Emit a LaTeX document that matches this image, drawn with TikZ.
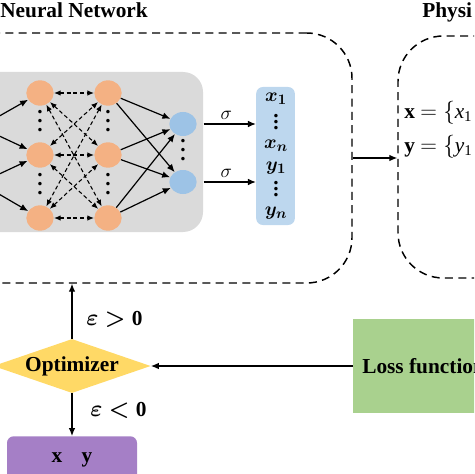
\documentclass[tikz,border=0pt]{standalone}
\usepackage{fontspec}
\setmainfont{Liberation Serif}
\usepackage{bm}
\usetikzlibrary{arrows.meta,shapes.geometric}

\definecolor{nnGray}{HTML}{DADADA}
\definecolor{nnOrange}{HTML}{F4B183}
\definecolor{nnBlue}{HTML}{9DC3E6}
\definecolor{nnLight}{HTML}{BDD7EE}
\definecolor{nnYellow}{HTML}{FFD966}
\definecolor{nnGreen}{HTML}{A9D18E}
\definecolor{nnPurple}{HTML}{A57FC6}

% three stacked bold dots
\newcommand{\nndots}[1]{\vbox{\baselineskip=#1\lineskiplimit=0pt\hbox{.}\hbox{.}\hbox{.}}}

\begin{document}
\begin{tikzpicture}[x=0.75pt, y=-0.75pt,
    hid/.style={ellipse, fill=nnOrange, minimum width=20.5pt, minimum height=19pt, inner sep=0pt},
    outn/.style={ellipse, fill=nnBlue, minimum width=20.5pt, minimum height=18pt, inner sep=0pt},
    dashbox/.style={draw, dash pattern=on 6pt off 4pt, line width=1.1pt, rounded corners=34pt},
    txt/.style={font=\fontsize{16}{19}\selectfont},
    big/.style={font=\fontsize{16}{19}\selectfont\bfseries},
    mth/.style={font=\fontsize{15.5}{18}\selectfont, inner sep=0pt},
    vd/.style={font=\fontsize{16}{19}\selectfont\bfseries, inner sep=0pt},
    arr/.style={line width=0.9pt, -{Latex[length=6pt,width=5pt]}},
    darr/.style={line width=0.8pt, dash pattern=on 3pt off 2pt, {Latex[length=5pt,width=4pt]}-{Latex[length=5pt,width=4pt]}}]
  \useasboundingbox (0,0) rectangle (474,474);
  \clip (0,0) rectangle (474,474);

  % dashed frames and titles
  \node[dashbox, minimum width=354pt, minimum height=187.5pt] (lbox) at (116,158) {};
  \node[dashbox, minimum width=226.5pt, minimum height=181.5pt] (rbox) at (549,157) {};
  \node[big, anchor=base west, inner sep=0pt] (nntitle) at (0,18) {Neural Network};
  \node[big, anchor=base west, inner sep=0pt] (phtitle) at (422,18) {Physi};

  % network
  \fill[nnGray, rounded corners=15pt] (-40,72) rectangle (203,232);
  \foreach \i/\y in {1/93,2/155,3/218} {
    \node[hid] (a\i) at (40,\y) {};
    \node[hid] (b\i) at (108,\y) {};
  }
  \node[outn] (c1) at (183,124) {};
  \node[outn] (c2) at (183,182) {};
  \foreach \x/\n in {40/a,108/b} {
    \node[vd] (dots\n u) at (\x,121) {\nndots{6.5pt}};
    \node[vd] (dots\n d) at (\x,184) {\nndots{6.5pt}};
  }
  \node[vd] (dotsc) at (183,150) {\nndots{6.5pt}};

  \coordinate (inA) at (-20,127);
  \coordinate (inB) at (-20,183);
  \foreach \j in {1,2} \draw[arr] (inA) -- (a\j);
  \foreach \j in {2,3} \draw[arr] (inB) -- (a\j);
  \foreach \i in {1,2,3} {
    \foreach \j in {1,2,3} {\draw[darr] (a\i) -- (b\j);}
  }
  \foreach \i in {1,2,3} {
    \foreach \j in {1,2} {\draw[arr] (b\i) -- (c\j);}
  }

  % outputs
  \node[fill=nnLight, rounded corners=5pt, minimum width=29pt, minimum height=103.5pt] (outbox) at (275.5,156) {};
  \draw[arr, shorten <=5pt] (c1.east) -- (c1.east -| outbox.west)
    node[midway, above, mth, inner sep=3pt] {$\sigma$};
  \draw[arr, shorten <=5pt] (c2.east) -- (c2.east -| outbox.west)
    node[midway, above, mth, inner sep=3pt] {$\sigma$};
  \node[mth] (ox1) at (276,99) {$\bm{x}_{\bm{1}}$};
  \node[vd] (dotsx) at (276,122) {\nndots{4.5pt}};
  \node[mth] (oxn) at (276,146) {$\bm{x}_{\bm{n}}$};
  \node[mth] (oy1) at (276,168) {$\bm{y}_{\bm{1}}$};
  \node[vd] (dotsy) at (276,189) {\nndots{4.5pt}};
  \node[mth] (oyn) at (276,213) {$\bm{y}_{\bm{n}}$};

  \draw[arr] (lbox.east) -- (lbox.east -| rbox.west);
  \node[txt, anchor=base west, inner sep=0pt] (xset) at (404,118) {\textbf{x} $=\Big\{$\textit{x}\textsubscript{1}};
  \node[txt, anchor=base west, inner sep=0pt] (yset) at (404,152) {\textbf{y} $=\Big\{$\textit{y}\textsubscript{1}};

  % optimisation loop
  \node[diamond, aspect=2.8, fill=nnYellow, minimum width=118pt, minimum height=40.5pt, inner sep=0pt, big] (opt) at (72,366) {Optimizer};
  \node[big, fill=nnGreen, anchor=west, minimum height=71pt, inner xsep=6.75pt] (loss) at (353,366) {Loss function};
  \node[big, fill=nnPurple, anchor=north, minimum width=97.5pt, minimum height=36pt, rounded corners=5pt] (res) at (72,436) {x\hspace{0.9em}y};

  \draw[arr] (opt.north) -- (opt.north |- lbox.south)
    node[pos=0.35, right=7pt, txt] {$\bm{\varepsilon} \bm{>} \mathbf{0}$};
  \draw[arr] (opt.south) -- (res.north)
    node[pos=0.4, right=10pt, txt] {$\bm{\varepsilon} \bm{<} \mathbf{0}$};
  \draw[arr] (loss.west) -- (opt.east);
\end{tikzpicture}
\end{document}
